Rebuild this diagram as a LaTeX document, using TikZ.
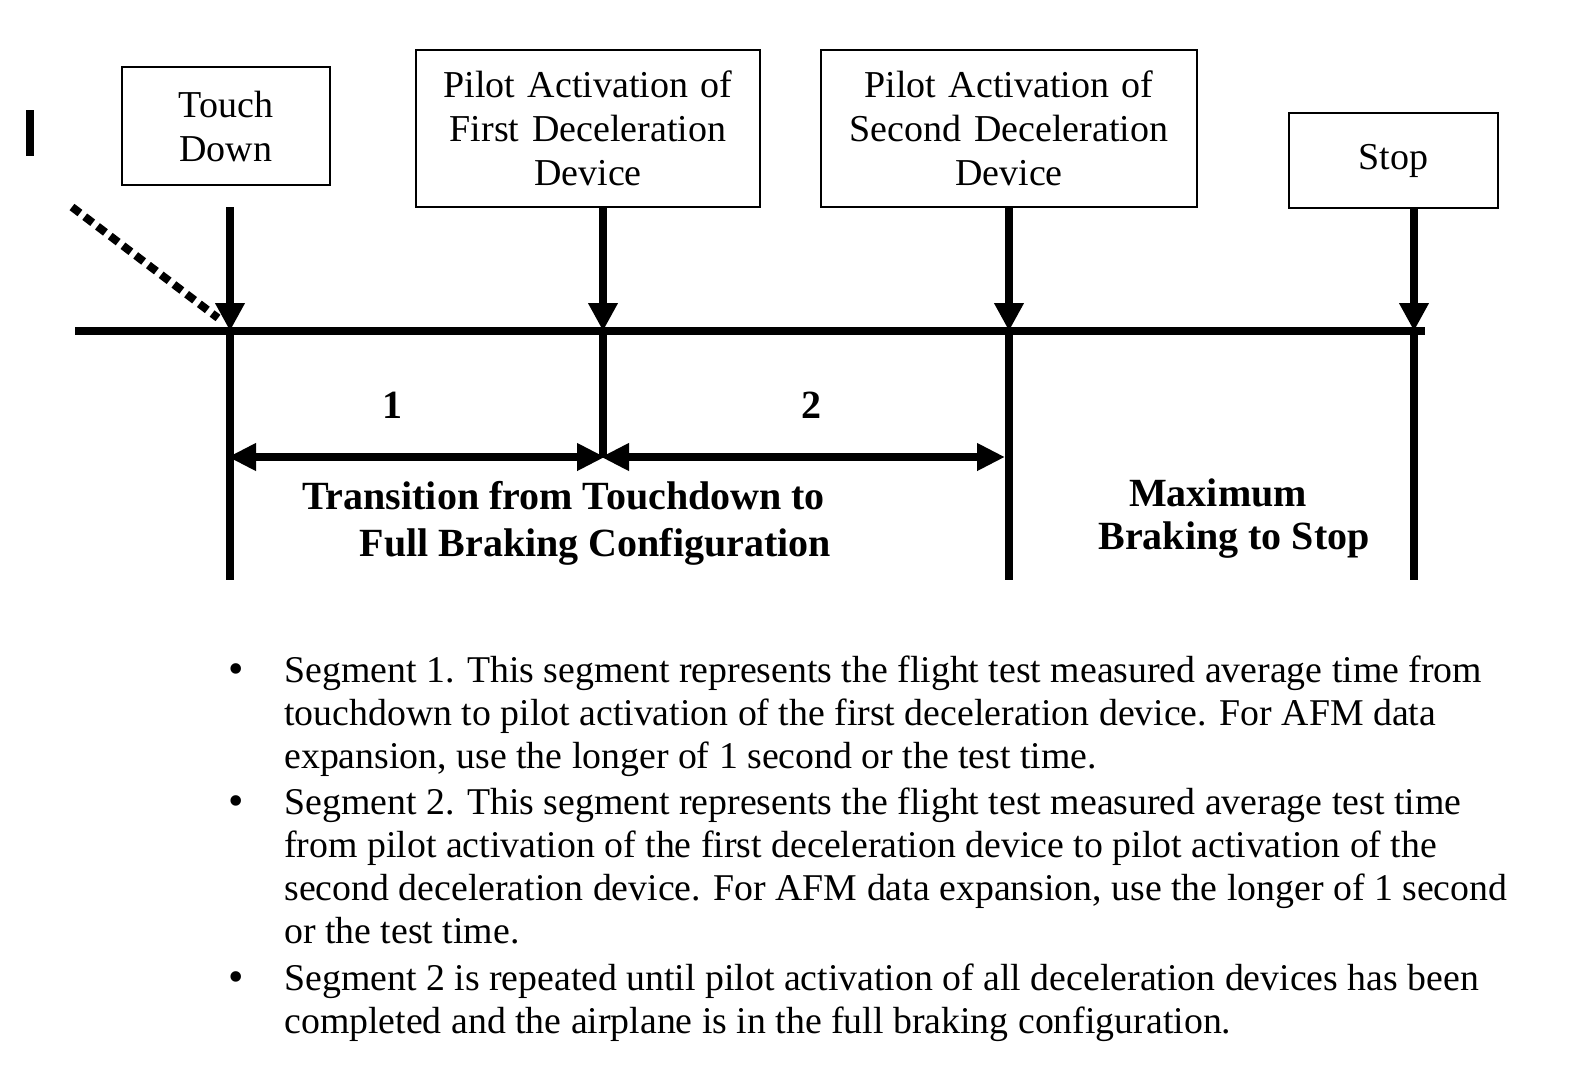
\documentclass[tikz,border=0pt]{standalone}
\usepackage{fontspec}
\setmainfont{Liberation Serif}
\usetikzlibrary{arrows.meta}
\begin{document}
\begin{tikzpicture}[x=0.5pt,y=-0.5pt,
  box/.style={draw,line width=1.2pt,align=center,inner sep=0pt,font=\fontsize{19}{22}\selectfont},
  thick4/.style={line width=4pt},
  arr/.style={thick4,-{Triangle[length=14pt,width=14pt]}},
  darr/.style={thick4,{Triangle[length=14pt,width=13pt]}-{Triangle[length=14pt,width=13pt]},shorten <=-1pt,shorten >=-1pt},
  lbl/.style={font=\bfseries\fontsize{20}{23}\selectfont,align=center},
  btext/.style={font=\fontsize{18.9}{21.6}\selectfont,align=left,anchor=north west,inner sep=0pt}]
\useasboundingbox (0,0) rectangle (1576,1072);
\draw[line width=4pt] (30,110) -- (30,156);
\node[box,text width=104pt, minimum height=59pt] (td) at (226,126) {Touch\\Down};
\node[box,text width=172pt, minimum height=78.5pt] (b1) at (588,128.5) {Pilot Activation of\\First Deceleration\\Device};
\node[box,text width=188pt, minimum height=78.5pt] (b2) at (1009,128.5) {Pilot Activation of\\Second Deceleration\\Device};
\node[box,text width=104.5pt, minimum height=47.5pt] (st) at (1393.5,160.5) {Stop};
\coordinate (L) at (75,331); \coordinate (R) at (1425,331);
\draw[thick4] (L) -- (R);
\coordinate (a1) at (230,207); \coordinate (a1e) at (230,331); \coordinate (a1b) at (230,580);
\coordinate (a2) at (603,207); \coordinate (a2e) at (603,331); \coordinate (a2b) at (603,457);
\coordinate (a3) at (1009,207); \coordinate (a3e) at (1009,331); \coordinate (a3b) at (1009,580);
\coordinate (a4) at (1414,208); \coordinate (a4e) at (1414,331); \coordinate (a4b) at (1414,580);
\foreach \i in {1,2,3,4} {\draw[arr] (a\i) -- (a\i e); \draw[thick4] (a\i e) -- (a\i b);}
\coordinate (d1) at (72,207); \coordinate (d2) at (218,318);
\draw[line width=4pt,dash pattern=on 5pt off 3pt] (d1) -- (d2);
\coordinate (s1) at (230,457); \coordinate (s2) at (603,457); \coordinate (s3) at (1003,457);
\draw[darr] (s1) -- (s2);
\draw[darr] (s2) -- (s3);
\node[lbl] (n1) at (392,405) {1};
\node[lbl] (n2) at (811,405) {2};
\node[lbl,anchor=north east] (t1) at (832,474) {Transition from Touchdown to};
\node[lbl,anchor=north east] (t2) at (838,521) {Full Braking Configuration};
\node[lbl] (m1) at (1218,493) {Maximum};
\node[lbl] (m2) at (1234,540) {Braking to Stop};
\foreach \y in {674,806,982} \node[font=\fontsize{22}{22}\selectfont] at (236,\y) {\textbullet};
\node[btext] (p1) at (284,655) {Segment 1. This segment represents the flight test measured average time from\\touchdown to pilot activation of the first deceleration device. For AFM data\\expansion, use the longer of 1 second or the test time.};
\node[btext] (p2) at (284,787) {Segment 2. This segment represents the flight test measured average test time\\from pilot activation of the first deceleration device to pilot activation of the\\second deceleration device. For AFM data expansion, use the longer of 1 second\\or the test time.};
\node[btext] (p3) at (284,963) {Segment 2 is repeated until pilot activation of all deceleration devices has been\\completed and the airplane is in the full braking configuration.};
\end{tikzpicture}
\end{document}
